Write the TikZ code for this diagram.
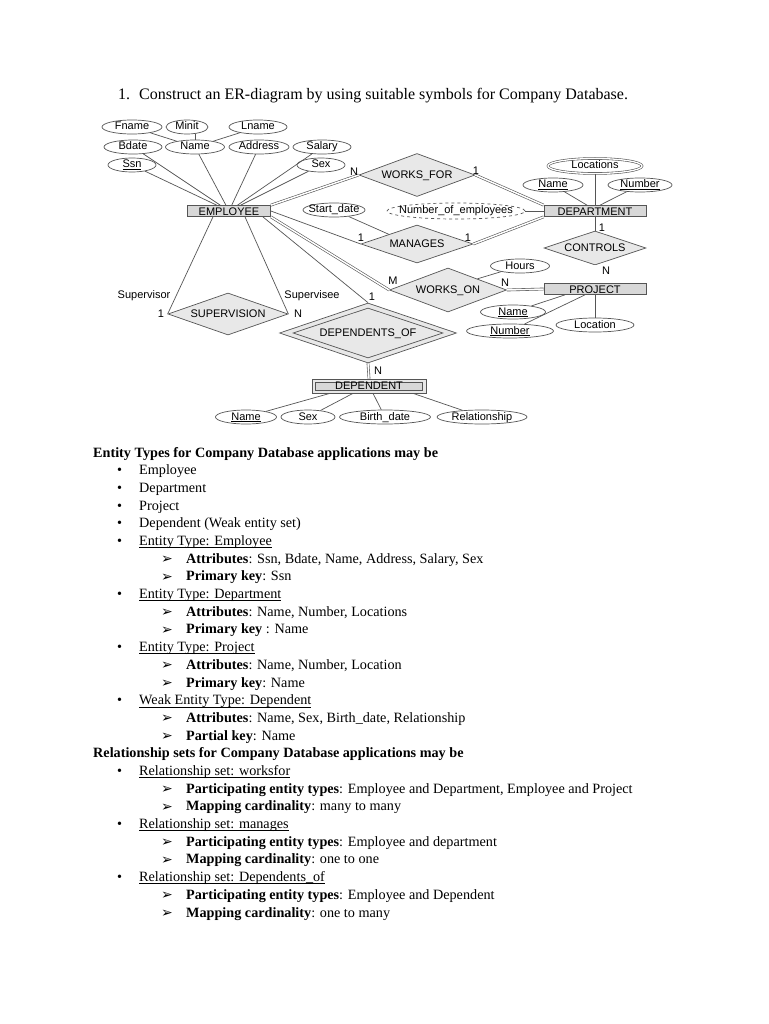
\documentclass[tikz,border=0pt]{standalone}
\usepackage{fontspec}
\setmainfont{Liberation Serif}
\newfontfamily\dfont{Liberation Sans}
\newfontfamily\symf{DejaVu Sans}
\usetikzlibrary{shapes.geometric,calc}
\definecolor{lc}{HTML}{555555}
\definecolor{rf}{HTML}{E8E8E8}
\definecolor{ef}{HTML}{D8D8D8}
\newcommand\dsz{\dfont\fontsize{11}{12}\selectfont}
\newcommand\tsz{\fontsize{14.2}{17.7}\selectfont}
\newcommand\myul[1]{\setbox0\hbox{#1}\rlap{\rule[-2.6pt]{\wd0}{0.8pt}}\box0}
\newcommand\smul[1]{\setbox0\hbox{#1}\rlap{\rule[-1.6pt]{\wd0}{0.6pt}}\box0}
\tikzset{
  attr/.style={ellipse, draw=lc, fill=white, line width=0.7pt, inner xsep=-4pt, inner ysep=0pt,
    text height=7.5pt, text depth=1.5pt, minimum height=14pt, font=\dsz},
  ent/.style={rectangle, draw=lc, fill=ef, line width=0.7pt, inner xsep=0pt, inner ysep=1.5pt,
    text height=8pt, text depth=0pt, font=\dsz},
  rel/.style={diamond, aspect=2.8, draw=lc, fill=rf, line width=0.7pt, inner sep=0pt,
    text height=7.5pt, text depth=0pt, font=\dsz},
  ln/.style={draw=lc, line width=0.7pt},
  dbl/.style={draw=lc, double=white, double distance=1.5pt, line width=0.6pt},
  lab/.style={inner sep=0pt, font=\dsz},
  txt/.style={anchor=base west, inner sep=0pt, font=\tsz},
}
\newcommand\hd[3]{\node[txt,font=\tsz\bfseries] (#1) at (93,#2) {#3};}
\newcommand\bu[3]{\node[txt] (#1b) at (117,#2) {•}; \node[txt] (#1) at (139,#2) {#3};}
\newcommand\ar[3]{\node[txt,font=\symf\fontsize{14}{14}\selectfont] (#1a) at (161,#2+0.5) {➢}; \node[txt] (#1) at (186,#2) {#3};}
\begin{document}
\begin{tikzpicture}[x=1pt,y=-1pt]
\useasboundingbox[fill=white] (0,0) rectangle (768,1024);

% title
\node[txt, font=\fontsize{16}{19}\selectfont] (tnum) at (118,100) {1.};
\node[txt, font=\fontsize{16}{19}\selectfont] (ttl) at (139,100) {Construct an ER-diagram by using suitable symbols for Company Database.};

% ---------- ER diagram ----------
% employee attributes
\node[attr, minimum width=60] (fname) at (132,127) {Fname};
\node[attr, minimum width=42] (minit) at (187,127) {Minit};
\node[attr, minimum width=58] (lname) at (258,127) {Lname};
\node[attr, minimum width=58] (bdate) at (133,147) {Bdate};
\node[attr, minimum width=59] (ename) at (195,147) {Name};
\node[attr, minimum width=60] (addr) at (259,147) {Address};
\node[attr, minimum width=58] (salary) at (322,147) {Salary};
\node[attr, minimum width=48] (ssn) at (132,165) {\smul{Ssn}};
\node[attr, minimum width=48] (esex) at (321,165) {Sex};

% department attributes
\node[attr, double, double distance=1.3pt, line width=0.6pt, minimum width=94, minimum height=15] (loc) at (595,166) {Locations};
\node[attr, minimum width=60] (dname) at (553,185) {\smul{Name}};
\node[attr, minimum width=64] (dnum) at (640,185) {\smul{Number}};
\node[attr, dashed, minimum width=138, minimum height=16, inner xsep=-10pt] (noe) at (456,211) {Number\_of\_employees};
\node[attr, minimum width=62] (sdate) at (334,210) {Start\_date};

% project attributes
\node[attr, minimum width=59] (hours) at (520,266) {Hours};
\node[attr, minimum width=65] (pname) at (513,312) {\smul{Name}};
\node[attr, minimum width=87] (pnum) at (510,331) {\smul{Number}};
\node[attr, minimum width=78] (ploc) at (595,325) {Location};

% dependent attributes
\node[attr, minimum width=61] (dpname) at (246,417) {\smul{Name}};
\node[attr, minimum width=54] (dpsex) at (308,417) {Sex};
\node[attr, minimum width=91] (dpbd) at (385,417) {Birth\_date};
\node[attr, minimum width=90] (dprel) at (482,417) {Relationship};

% entities
\node[ent, minimum width=83] (emp) at (229,211) {EMPLOYEE};
\node[ent, minimum width=102] (dept) at (595,211) {DEPARTMENT};
\node[ent, minimum width=102] (proj) at (595,289) {PROJECT};

% relationships
\node[rel, minimum width=116, minimum height=43] (wf) at (417,175) {WORKS\_FOR};
\node[rel, minimum width=112, minimum height=38] (man) at (417,244) {MANAGES};
\node[rel, minimum width=102, minimum height=34] (ctrl) at (595,248) {CONTROLS};
\node[rel, minimum width=117, minimum height=44] (won) at (448,290) {WORKS\_ON};
\node[rel, minimum width=120, minimum height=42] (sup) at (228,314) {SUPERVISION};
\node[rel, aspect=2.95, minimum width=177, minimum height=60] (depof) at (368,333) {};
\node[rel, aspect=2.95, minimum width=150, minimum height=50] (depofi) at (368,333) {DEPENDENTS\_OF};
\node[ent, fill=rf, minimum width=114, minimum height=14, inner ysep=0pt, text height=0pt] (dep) at (369,386) {};
\node[ent, minimum width=107, minimum height=8, inner ysep=0pt, text height=7.5pt] (depi) at (369,386) {DEPENDENT};

% attribute lines
\draw[ln] (fname) -- (ename);
\draw[ln] (ename.north) -- (ename.north |- minit.south);
\draw[ln] (lname) -- (ename);
\draw[ln] (ssn) -- (emp);
\draw[ln] (bdate) -- (emp);
\draw[ln] (ename) -- (emp);
\draw[ln] (addr) -- (emp);
\draw[ln] (salary) -- (emp);
\draw[ln] (esex) -- (emp);

% connectors
\draw[dbl] (emp.north east) -- (wf.west);
\draw[ln] (emp.east) -- (man.west);
\draw[dbl] (emp.south east) -- (won.west);
\draw[ln] ([xshift=-8pt]emp.south east) -- (depof.north);
\draw[ln] ([xshift=-16pt]emp.south) -- (sup.west);
\draw[ln] ([xshift=16pt]emp.south) -- (sup.east);

\draw[dbl] (wf.east) -- (dept.north west);
\draw[dbl] (man.east) -- (dept.south west);
\draw[ln] (noe) -- (dept);
\draw[ln] (sdate) -- (man.north west);
\draw[ln] (dept) -- (ctrl);
\draw[dbl] (ctrl.south) -- (proj.north);
\draw[ln] (loc) -- (dept);
\draw[ln] (dname) -- ([xshift=-8pt]dept.north);
\draw[ln] (dnum) -- ([xshift=5pt]dept.north);

\draw[dbl] (won.east) -- (proj.west);
\draw[ln] (hours) -- (won.north east);
\draw[ln] (pname) -- ([xshift=-30pt]proj.south);
\draw[ln] (pnum) -- ([xshift=-10pt]proj.south);
\draw[ln] (ploc) -- (proj);

\draw[dbl] (depof.south) -- (dep.north);
\draw[ln] (dpname) -- ([xshift=-39pt]dep.south);
\draw[ln] (dpsex) -- ([xshift=-16pt]dep.south);
\draw[ln] (dpbd) -- ([xshift=4pt]dep.south);
\draw[ln] (dprel) -- ([xshift=44pt]dep.south);

% cardinality labels
\node[lab] (c1) at (354,172) {N};
\node[lab] (c2) at (476,171) {1};
\node[lab] (c3) at (361,238) {1};
\node[lab] (c4) at (468,238) {1};
\node[lab] (c5) at (602,228) {1};
\node[lab] (c6) at (606,271) {N};
\node[lab] (c7) at (393,281) {M};
\node[lab] (c8) at (505,283) {N};
\node[lab] (c9) at (372,297) {1};
\node[lab] (c10) at (378,371) {N};
\node[lab] (c11) at (161,314) {1};
\node[lab] (c12) at (298,314) {N};
\node[lab] (r1) at (144,296) {Supervisor};
\node[lab] (r2) at (312,296) {Supervisee};

% ---------- text ----------
\hd{h1}{457.0}{Entity Types for Company Database applications may be}
\bu{e1}{474.7}{Employee}
\bu{e2}{492.4}{Department}
\bu{e3}{510.1}{Project}
\bu{e4}{527.8}{Dependent (Weak entity set)}
\bu{e5}{545.5}{\myul{Entity Type: Employee}}
\ar{e6}{563.1}{\textbf{Attributes}: Ssn, Bdate, Name, Address, Salary, Sex}
\ar{e7}{580.8}{\textbf{Primary key}: Ssn}
\bu{e8}{598.5}{\myul{Entity Type: Department}}
\ar{e9}{616.2}{\textbf{Attributes}: Name, Number, Locations}
\ar{e10}{633.9}{\textbf{Primary key} : Name}
\bu{e11}{651.6}{\myul{Entity Type: Project}}
\ar{e12}{669.3}{\textbf{Attributes}: Name, Number, Location}
\ar{e13}{687.0}{\textbf{Primary key}: Name}
\bu{e14}{704.7}{\myul{Weak Entity Type: Dependent}}
\ar{e15}{722.4}{\textbf{Attributes}: Name, Sex, Birth\_date, Relationship}
\ar{e16}{740.0}{\textbf{Partial key}: Name}
\hd{h2}{757.7}{Relationship sets for Company Database applications may be}
\bu{e18}{775.4}{\myul{Relationship set: worksfor}}
\ar{e19}{793.1}{\textbf{Participating entity types}: Employee and Department, Employee and Project}
\ar{e20}{810.8}{\textbf{Mapping cardinality}: many to many}
\bu{e21}{828.5}{\myul{Relationship set: manages}}
\ar{e22}{846.2}{\textbf{Participating entity types}: Employee and department}
\ar{e23}{863.9}{\textbf{Mapping cardinality}: one to one}
\bu{e24}{881.6}{\myul{Relationship set: Dependents\_of}}
\ar{e25}{899.3}{\textbf{Participating entity types}: Employee and Dependent}
\ar{e26}{917.0}{\textbf{Mapping cardinality}: one to many}
\end{tikzpicture}
\end{document}
